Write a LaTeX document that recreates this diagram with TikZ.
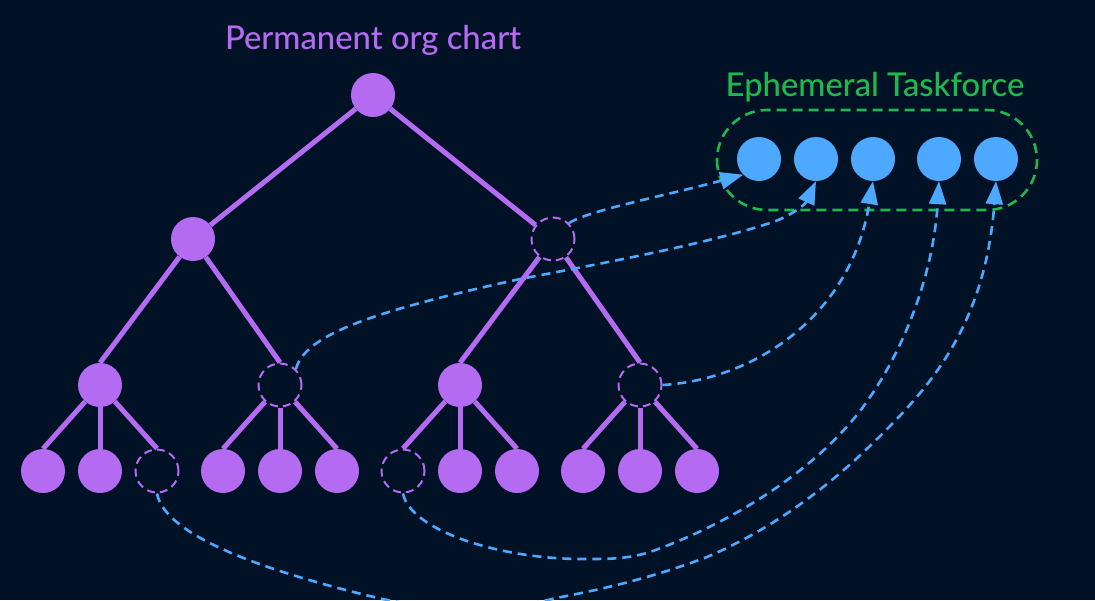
\documentclass[tikz,border=0pt]{standalone}
\usepackage{fontspec}
\setmainfont{Lato Medium}
\usepackage{xcolor}
\usetikzlibrary{positioning,arrows.meta}
\definecolor{bgnavy}{HTML}{011226}
\definecolor{orgpurple}{HTML}{B56AF2}
\definecolor{taskblue}{HTML}{4DA8FF}
\definecolor{taskgreen}{HTML}{1FB84F}
\tikzset{
  member/.style={circle, fill=orgpurple, minimum size=44pt, inner sep=0pt},
  away/.style={circle, draw=orgpurple, line width=2pt, dash pattern=on 8pt off 5pt, minimum size=43pt, inner sep=0pt},
  temp/.style={circle, fill=taskblue, minimum size=44pt, inner sep=0pt},
  tree/.style={draw=orgpurple, line width=5pt},
  link/.style={draw=taskblue, line width=2.6pt, dash pattern=on 9pt off 6pt, -{Triangle[length=23pt,width=17pt]}},
}
\begin{document}
\begin{tikzpicture}[x=1pt, y=-1pt, node distance=57pt]
  \fill[bgnavy] (0,0) rectangle (1095,600);
  \clip (0,0) rectangle (1095,600);

  % Titles
  \node (orgtitle) at (373,40) [text=orgpurple, font=\fontsize{32.8}{36}\selectfont] {Permanent org chart};
  \node (tasktitle) at (875,87) [text=taskgreen, font=\fontsize{32.8}{36}\selectfont] {Ephemeral Taskforce};

  % Org chart nodes
  \node (ceo) at (373,95) [member] {};
  \node (vpa) [member, left of=ceo, xshift=-123pt, yshift=-144pt] {};
  \node (vpb) [away, right of=ceo, xshift=123pt, yshift=-144pt] {};
  \node (ma) [member, left of=vpa, xshift=-36pt, yshift=-146pt] {};
  \node (mb) [away, right of=vpa, xshift=30pt, yshift=-146pt] {};
  \node (mc) [member, left of=vpb, xshift=-36pt, yshift=-146pt] {};
  \node (md) [away, right of=vpb, xshift=30pt, yshift=-146pt] {};
  \node (a2) [member, below of=ma, yshift=-29pt] {};
  \node (a1) [member, left of=a2] {};
  \node (a3) [away, right of=a2] {};
  \node (b2) [member, below of=mb, yshift=-29pt] {};
  \node (b1) [member, left of=b2] {};
  \node (b3) [member, right of=b2] {};
  \node (c2) [member, below of=mc, yshift=-29pt] {};
  \node (c1) [away, left of=c2] {};
  \node (c3) [member, right of=c2] {};
  \node (d2) [member, below of=md, yshift=-29pt] {};
  \node (d1) [member, left of=d2] {};
  \node (d3) [member, right of=d2] {};

  % Taskforce nodes
  \node (t1) at (759,159) [temp] {};
  \node (t2) [temp, right of=t1] {};
  \node (t3) [temp, right of=t2] {};
  \node (t4) [temp, right of=t3, xshift=9pt] {};
  \node (t5) [temp, right of=t4] {};
  \draw[taskgreen, line width=2.6pt, dash pattern=on 10pt off 6pt, rounded corners=50pt] (717,110) rectangle (1037,210);

  % Tree edges
  \draw[tree] (ceo) -- (vpa);
  \draw[tree] (ceo) -- (vpb);
  \draw[tree] (vpa) -- (ma.north);
  \draw[tree] (vpa) -- (mb.north);
  \draw[tree] (vpb) -- (mc.north);
  \draw[tree] (vpb) -- (md.north);
  \foreach \m/\l in {ma/a1,ma/a2,ma/a3,mb/b1,mb/b2,mb/b3,mc/c1,mc/c2,mc/c3,md/d1,md/d2,md/d3}
    \draw[tree] (\m) -- (\l.north);

  % Links to the taskforce
  \draw[link] (vpb.45) .. controls (590,210) and (660,197) .. (t1.225);
  \draw[link] (mb.45) .. controls (305,335) and (370,312) .. (520,279) .. controls (610,262) and (710,243) .. (773,222) .. controls (790,216) and (805,205) .. (t2.south);
  \draw[link] (md.east) .. controls (750,380) and (850,320) .. (t3.south);
  \draw[link] (c1.south) .. controls (410,530) and (500,560) .. (587,559) .. controls (608,559) and (628,559) .. (650,552) .. controls (740,520) and (820,465) .. (863,407) .. controls (900,357) and (933,280) .. (t4.south);
  \draw[link] (a3.south) .. controls (165,535) and (260,570) .. (378,598) .. controls (450,614) and (510,610) .. (556,598) .. controls (610,588) and (660,575) .. (707,557) .. controls (770,530) and (825,490) .. (873,443) .. controls (925,392) and (985,330) .. (t5.south);
\end{tikzpicture}
\end{document}
